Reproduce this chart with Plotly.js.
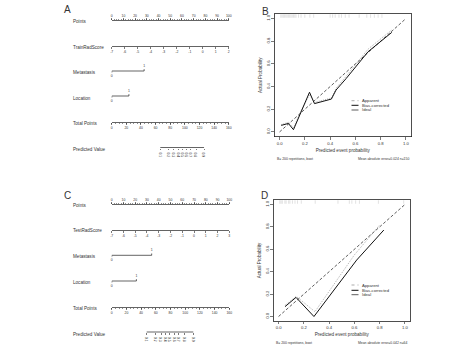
<!DOCTYPE html>
<html><head><meta charset="utf-8">
<script src="https://cdn.plot.ly/plotly-3.0.1.min.js"></script>
<style>html,body{margin:0;padding:0;background:#fff}</style>
</head><body><div id="chart" style="width:474px;height:351px"></div>
<script>
// ---------------- DATA ----------------
const rowLabelsA = ['Points','TrainRadScore','Metastasis','Location','Total Points','Predicted Value'];
const rowLabelsC = ['Points','TestRadScore','Metastasis','Location','Total Points','Predicted Value'];
const pointsTicks = [0,10,20,30,40,50,60,70,80,90,100];
const radScoreTicksA = [-7,-6,-5,-4,-3,-2,-1,0,1,2];
const radScoreTicksC = [-7,-6,-5,-4,-3,-2,-1,0,1,2,3];
const catLevels = ['0','1'];
const metastasisPtsA = [0, 27.7];
const locationPtsA = [0, 14.7];
const metastasisPtsC = [0, 34];
const locationPtsC = [0, 21];
const totalPointsTicks = [0,20,40,60,80,100,120,140,160];
const predLabels = ['0.1','0.2','0.3','0.4','0.5','0.6','0.7','0.8','0.9'];
const predTotalPtsA = [66.4,77.4,84.8,90.8,96.3,101.8,107.8,115.2,126.2];
const predTotalPtsC = [47.6,59.3,67.1,73.5,79.3,85.1,91.5,99.3,111.0];

const calTicks = [0,0.2,0.4,0.6,0.8,1.0];
const idealXY = [0,1];
const biasB_x = [0.013,0.07,0.11,0.17,0.237,0.276,0.41,0.447,0.526,0.70,0.888];
const biasB_y = [0.058,0.075,0.02,0.18,0.35,0.25,0.29,0.37,0.47,0.707,0.878];
const appB_x  = [0.013,0.07,0.11,0.17,0.237,0.276,0.41,0.447,0.526,0.70,0.888];
const appB_y  = [0.065,0.085,0.035,0.19,0.33,0.26,0.30,0.385,0.49,0.73,0.90];
const rugB = [0.01,0.02,0.03,0.04,0.05,0.06,0.07,0.08,0.09,0.1,0.11,0.12,0.13,0.15,0.17,0.2,0.24,0.27,0.4,0.42,0.44,0.47,0.49,0.52,0.55,0.63,0.69,0.72,0.75,0.78,0.81];
const biasD_x = [0.051,0.138,0.28,0.618,0.833];
const biasD_y = [0.088,0.171,0.0,0.504,0.772];
const appD_x  = [0.05,0.14,0.288,0.60,0.80];
const appD_y  = [0.10,0.18,0.043,0.55,0.817];
const rugD = [0.01,0.02,0.03,0.05,0.06,0.08,0.09,0.11,0.13,0.15,0.18,0.29,0.47,0.56,0.58,0.61,0.64,0.79,0.99];
const legendNames = ['Apparent','Bias-corrected','Ideal'];
const captionLeft = 'B= 200 repetitions, boot';
const captionRightB = 'Mean absolute error=0.024 n=150';
const captionRightD = 'Mean absolute error=0.042 n=64';

// ---------------- HELPERS ----------------
const W = 474, H = 351;
const fx = p => p / W;
const fy = p => 1 - p / H;
const INK = '#222';
const TXT = '#333';
const FONT = 'Liberation Sans, Arial, sans-serif';

const data = [];
const layout = {
  width: W, height: H, margin: {l:0,r:0,t:0,b:0}, autosize:false,
  paper_bgcolor:'#fff', plot_bgcolor:'rgba(0,0,0,0)', showlegend:false,
  font:{family:FONT, color:TXT}, annotations:[], shapes:[]
};
let axN = 0;
function newAxes(){ axN++; return {n:axN, xk: axN===1?'xaxis':'xaxis'+axN, yk: axN===1?'yaxis':'yaxis'+axN, xr: axN===1?'x':'x'+axN, yr: axN===1?'y':'y'+axN}; }

const baseX = {showgrid:false, zeroline:false, fixedrange:true, linecolor:INK, tickcolor:INK, linewidth:0.7, tickwidth:0.6};

function rowYAxis(a, lineY){
  layout[a.yk] = {domain:[fy(lineY+6), fy(lineY-6)], range:[-1,1], visible:false, fixedrange:true};
}
function dummy(a, x0){
  data.push({x:[x0], y:[0], xaxis:a.xr, yaxis:a.yr, mode:'markers', marker:{opacity:0}, hoverinfo:'skip', showlegend:false});
}
function label(text, x, y, size, extra){
  layout.annotations.push(Object.assign({text:text, x:fx(x), y:fy(y), xref:'paper', yref:'paper', showarrow:false, xanchor:'left', yanchor:'middle', font:{size:size, color:TXT, family:FONT}}, extra||{}));
}

function nomogram(o){
  const dom = [fx(o.L), fx(o.R)];
  // Points
  let a = newAxes(); rowYAxis(a, o.ys[0]);
  layout[a.xk] = Object.assign({}, baseX, {domain:dom, range:[0,100], anchor:'free', position:fy(o.ys[0]), side:'top', showline:true,
    ticks:'outside', ticklen:1.8, tickmode:'array', tickvals:pointsTicks, ticktext:pointsTicks.map(String), tickfont:{size:3.4, color:TXT},
    minor:{tickmode:'linear', tick0:0, dtick:2, ticks:'outside', ticklen:1, tickwidth:0.5, tickcolor:INK}});
  dummy(a, 0);
  // RadScore
  a = newAxes(); rowYAxis(a, o.ys[1]);
  const rs = o.radTicks;
  layout[a.xk] = Object.assign({}, baseX, {domain:dom, range:[rs[0], rs[rs.length-1]], anchor:'free', position:fy(o.ys[1]), side:'bottom', showline:true,
    ticks:'outside', ticklen:1.8, tickmode:'array', tickvals:rs, ticktext:rs.map(String), tickfont:{size:3.4, color:TXT}});
  dummy(a, rs[0]);
  // categorical rows
  [[o.ys[2], o.met], [o.ys[3], o.loc]].forEach(([yy, pts]) => {
    const c = newAxes(); rowYAxis(c, yy);
    layout[c.xk] = Object.assign({}, baseX, {domain:dom, range:[0,100], anchor:'free', position:fy(yy), visible:false});
    data.push({x:[pts[0],pts[0],pts[1],pts[1]], y:[-0.3,0,0,0.3], xaxis:c.xr, yaxis:c.yr, mode:'lines', line:{color:INK, width:0.7}, hoverinfo:'skip', cliponaxis:false});
    data.push({x:pts, y:[-0.78,0.78], text:catLevels, xaxis:c.xr, yaxis:c.yr, mode:'text', textfont:{size:3.4, color:TXT, family:FONT}, hoverinfo:'skip', cliponaxis:false});
  });
  // Total points
  a = newAxes(); rowYAxis(a, o.ys[4]);
  layout[a.xk] = Object.assign({}, baseX, {domain:dom, range:[0,160], anchor:'free', position:fy(o.ys[4]), side:'bottom', showline:true,
    ticks:'outside', ticklen:1.8, tickmode:'array', tickvals:totalPointsTicks, ticktext:totalPointsTicks.map(String), tickfont:{size:3.4, color:TXT},
    minor:{tickmode:'linear', tick0:0, dtick:5, ticks:'outside', ticklen:1, tickwidth:0.5, tickcolor:INK}});
  dummy(a, 0);
  // Predicted value (on total points scale)
  a = newAxes(); rowYAxis(a, o.ys[5]);
  const pp = o.pred;
  layout[a.xk] = Object.assign({}, baseX, {domain:dom, range:[0,160], anchor:'free', position:fy(o.ys[5]), side:'bottom', showline:false,
    ticks:'outside', ticklen:1.8, tickmode:'array', tickvals:pp, ticktext:predLabels, tickfont:{size:3.2, color:TXT}});
  data.push({x:[pp[0], pp[pp.length-1]], y:[0,0], xaxis:a.xr, yaxis:a.yr, mode:'lines', line:{color:INK, width:0.7}, hoverinfo:'skip', cliponaxis:false});
  // row labels
  o.labels.forEach((t,i) => label(t, 71, o.labelYs[i], 4.6));
  label(o.letter, 62, o.letterY, 10);
}

function calib(o){
  const a = newAxes();
  layout[a.xk] = Object.assign({}, baseX, {domain:[fx(o.L), fx(o.R)], range:[-0.04,1.04], anchor:a.yr, showline:true, mirror:true, linewidth:0.8,
    ticks:'outside', ticklen:2.5, tickmode:'array', tickvals:calTicks, ticktext:calTicks.map(v=>v.toFixed(1)), tickfont:{size:4.2, color:TXT},
    title:{text:'Predicted event probability', font:{size:4.6, color:TXT}, standoff:3}});
  layout[a.yk] = Object.assign({}, baseX, {domain:[fy(o.B), fy(o.T)], range:[-0.04,1.04], anchor:a.xr, showline:true, mirror:true, linewidth:0.8,
    ticks:'outside', ticklen:2.5, tickmode:'array', tickvals:calTicks, ticktext:calTicks.map(v=>v.toFixed(1)), tickangle:-90, tickfont:{size:4.2, color:TXT},
    title:{text:'Actual Probability', font:{size:4.6, color:TXT}, standoff:2}});
  data.push({x:idealXY, y:idealXY, xaxis:a.xr, yaxis:a.yr, mode:'lines', line:{color:'#333', width:0.8, dash:'3px,2px'}, hoverinfo:'skip'});
  data.push({x:o.ax, y:o.ay, xaxis:a.xr, yaxis:a.yr, mode:'lines', line:{color:'#888', width:0.7, dash:'1px,1.2px'}, hoverinfo:'skip'});
  data.push({x:o.bx, y:o.by, xaxis:a.xr, yaxis:a.yr, mode:'lines', line:{color:'#111', width:1}, hoverinfo:'skip'});
  data.push({x:o.rug, y:o.rug.map(()=>1.022), xaxis:a.xr, yaxis:a.yr, mode:'markers', marker:{symbol:'line-ns', size:2.5, line:{width:0.35, color:'#aaa'}}, hoverinfo:'skip', cliponaxis:false});
  // legend
  const styles = [{color:'#888', width:0.7, dash:'dot'}, {color:'#111', width:1}, {color:'#333', width:0.8, dash:'dash'}];
  legendNames.forEach((nm,i) => {
    const yy = o.legY[i];
    layout.shapes.push({type:'line', xref:'paper', yref:'paper', x0:fx(351.5), x1:fx(358.5), y0:fy(yy), y1:fy(yy), line:styles[i]});
    label(nm, 360, yy, 4.2);
  });
  label(captionLeft, o.L, o.capY, 3.4);
  label(o.capR, o.R, o.capY, 3.4, {xanchor:'right'});
  label(o.letter, o.L-15, o.letterY, 10);
}

// ---------------- BUILD ----------------
nomogram({letter:'A', letterY:10, L:111.7, R:228.8, ys:[20,46,71,96,122.5,147.5], labelYs:[21.5,47,72.3,98.3,123.3,149.3],
  labels:rowLabelsA, radTicks:radScoreTicksA, met:metastasisPtsA, loc:locationPtsA, pred:predTotalPtsA});
calib({letter:'B', letterY:11, L:274.5, R:411, T:14, B:136.5, ax:appB_x, ay:appB_y, bx:biasB_x, by:biasB_y, rug:rugB,
  legY:[100.7,105.3,110], capY:158.5, capR:captionRightB});
nomogram({letter:'C', letterY:195, L:111.7, R:229.3, ys:[204,230,255.3,281,307,332], labelYs:[205,230.5,256,282.7,308,334],
  labels:rowLabelsC, radTicks:radScoreTicksC, met:metastasisPtsC, loc:locationPtsC, pred:predTotalPtsC});
calib({letter:'D', letterY:195, L:273.5, R:410, T:200, B:321, ax:appD_x, ay:appD_y, bx:biasD_x, by:biasD_y, rug:rugD,
  legY:[285,290.3,294.7], capY:342.7, capR:captionRightD});

Plotly.newPlot('chart', data, layout, {staticPlot:true, displayModeBar:false});
</script></body></html>
